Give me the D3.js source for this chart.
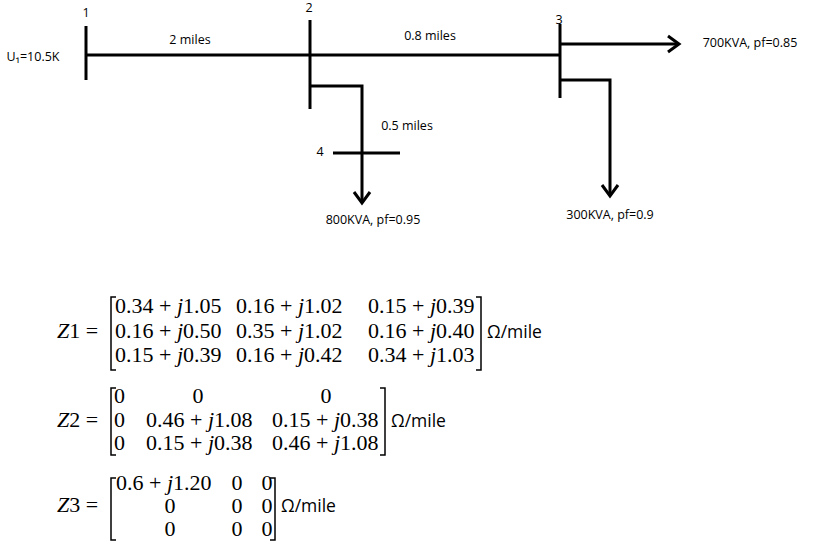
<!DOCTYPE html>
<html><head><meta charset="utf-8">
<script src="https://cdn.jsdelivr.net/npm/d3@7"></script>
<style>body{margin:0;background:#fff}</style></head>
<body><script>
const busLabels=["1","2","3","4"];
const lineLabels=["2 miles","0.8 miles","0.5 miles"];
const loads=["700KVA, pf=0.85","800KVA, pf=0.95","300KVA, pf=0.9"];
const sourceLabel="U₁=10.5K";
const Z1=[["0.34 + j1.05","0.16 + j1.02","0.15 + j0.39"],["0.16 + j0.50","0.35 + j1.02","0.16 + j0.40"],["0.15 + j0.39","0.16 + j0.42","0.34 + j1.03"]];
const Z2=[["0","0","0"],["0","0.46 + j1.08","0.15 + j0.38"],["0","0.15 + j0.38","0.46 + j1.08"]];
const Z3=[["0.6 + j1.20","0","0"],["0","0","0"],["0","0","0"]];
const unit="Ω/mile";

const svg=d3.select("body").append("svg").attr("width",816).attr("height",560);
const g=svg.append("g").attr("stroke","#000").attr("stroke-width",3).attr("fill","none");
const L=(x1,y1,x2,y2)=>g.append("line").attr("x1",x1).attr("y1",y1).attr("x2",x2).attr("y2",y2);
const P=(d)=>g.append("path").attr("d",d);
L(86,26,86,80); L(310,20,310,109); L(560,24,560,98); L(333,153,400,153);
L(86,55,560,55);
P("M310,86H362V203"); P("M354,192L362,203L370,192");
L(560,44,679,44); P("M668,36L679,44L668,52");
P("M560,80H610V196"); P("M602,185L610,196L618,185");
const T=(x,y,t,a="middle")=>svg.append("text").attr("x",x).attr("y",y).attr("text-anchor",a).attr("fill","#000")
  .attr("font-family","Open Sans, DejaVu Sans, sans-serif").attr("font-size",12.5).attr("dominant-baseline","middle").text(t);
T(86,14,busLabels[0]);T(309,9,busLabels[1]);T(559,21,busLabels[2]);T(320,153,busLabels[3]);
T(190,41,lineLabels[0]);T(430,37,lineLabels[1]);T(407,127,lineLabels[2]);
T(33,58,sourceLabel);T(750,44,loads[0]);T(373,221,loads[1]);T(610,216,loads[2]);

const MF="'Liberation Serif','DejaVu Serif',serif";
function cell(x,y,s,anchor){
  const t=svg.append("text").attr("x",x).attr("y",y).attr("text-anchor",anchor).attr("dominant-baseline","middle")
   .attr("font-family",MF).attr("font-size",22);
  const i=s.indexOf("j");
  if(i<0){t.text(s);return;}
  t.append("tspan").text(s.slice(0,i));
  t.append("tspan").attr("font-style","italic").text("j");
  t.append("tspan").text(s.slice(i+1));
}
function bracket(x,y1,y2,dir){
  svg.append("path").attr("d",`M${x+dir*5},${y1}H${x}V${y2}H${x+dir*5}`).attr("stroke","#000").attr("stroke-width",1.5).attr("fill","none");
}
function matrix(name,M,cy,rows,cols,anchors,rb,top,bot){
  const t=svg.append("text").attr("x",57).attr("y",cy).attr("dominant-baseline","middle").attr("font-family",MF).attr("font-size",22);
  t.append("tspan").attr("font-style","italic").text("Z");
  t.append("tspan").text(name.slice(1)+" =");
  bracket(111,top,bot,1); bracket(rb,top,bot,-1);
  M.forEach((r,i)=>r.forEach((s,j)=>cell(cols[i][j],rows[i],s,anchors[i][j])));
  svg.append("text").attr("x",rb+6).attr("y",cy).attr("dominant-baseline","middle").attr("font-family","Open Sans, DejaVu Sans, sans-serif").attr("font-size",17.5).text(unit);
}
const c1=[115,236,368];
matrix("Z1",Z1,333,[308,333,357],[c1,c1,c1],Array(3).fill(["start","start","start"]),481,297,370);
matrix("Z2",Z2,422,[398,422,445],[[114,198,326],[114,146,272],[114,146,272]],
  [["start","middle","middle"],["start","start","start"],["start","start","start"]],385,388,455);
matrix("Z3",Z3,507,[485,508,531],[[116,237,267],[170,237,267],[170,237,267]],
  [["start","middle","middle"],["middle","middle","middle"],["middle","middle","middle"]],275,478,540);
</script></body></html>
